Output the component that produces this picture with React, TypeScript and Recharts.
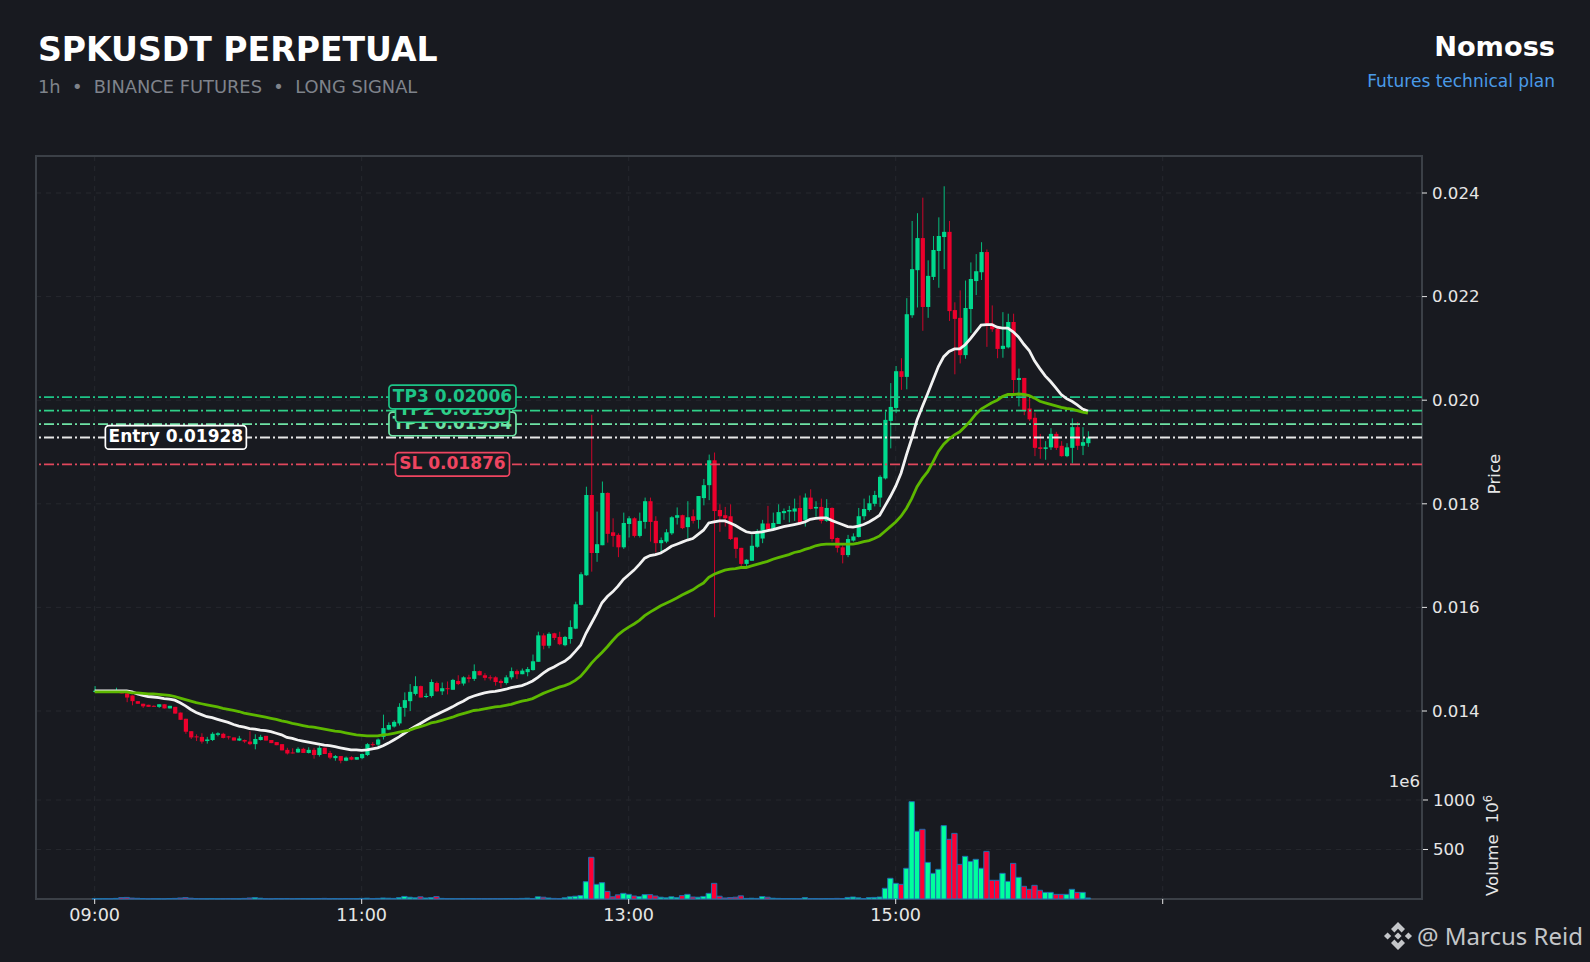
import {
  Bar,
  CartesianGrid,
  Cell,
  ComposedChart,
  Line,
  ReferenceDot,
  ReferenceLine,
  XAxis,
  YAxis,
} from "recharts";

// prices are kept in 1e-5 USDT, volumes in 1e6 units
const opens = [
  1438, 1439, 1439, 1439, 1439, 1438, 1434, 1430, 1419, 1414,
  1412, 1410, 1408, 1413, 1405, 1408, 1397, 1385, 1361, 1351,
  1350, 1342, 1344, 1354, 1356, 1351, 1349, 1343, 1344, 1341,
  1336, 1344, 1352, 1344, 1340, 1336, 1325, 1320, 1320, 1327,
  1319, 1325, 1315, 1329, 1319, 1309, 1313, 1304, 1311, 1306,
  1309, 1315, 1336, 1335, 1350, 1364, 1370, 1376, 1406, 1419,
  1433, 1448, 1427, 1429, 1454, 1438, 1444, 1441, 1458, 1453,
  1465, 1462, 1477, 1469, 1465, 1465, 1458, 1454, 1465, 1477,
  1471, 1475, 1479, 1495, 1546, 1526, 1550, 1543, 1527, 1539,
  1559, 1605, 1662, 1817, 1705, 1720, 1821, 1745, 1740, 1716,
  1761, 1772, 1738, 1765, 1805, 1767, 1724, 1727, 1743, 1773,
  1778, 1755, 1776, 1769, 1811, 1836, 1884, 1788, 1778, 1776,
  1735, 1715, 1684, 1690, 1717, 1733, 1762, 1751, 1761, 1782,
  1785, 1785, 1792, 1769, 1812, 1791, 1794, 1767, 1792, 1734,
  1716, 1701, 1729, 1736, 1776, 1788, 1800, 1812, 1849, 1960,
  1985, 2056, 2045, 2164, 2251, 2313, 2180, 2238, 2288, 2315,
  2325, 2174, 2159, 2087, 2176, 2230, 2247, 2286, 2148, 2138,
  2099, 2102, 2151, 2039, 2043, 1984, 1966, 1909, 1906, 1909,
  1935, 1912, 1892, 1908, 1948, 1912, 1917,
];
const closes = [
  1439, 1439, 1439, 1438, 1440, 1434, 1426, 1419, 1414, 1409,
  1408, 1409, 1413, 1405, 1410, 1395, 1383, 1360, 1349, 1350,
  1341, 1345, 1356, 1357, 1348, 1349, 1343, 1347, 1341, 1336,
  1346, 1350, 1343, 1338, 1334, 1324, 1318, 1319, 1327, 1319,
  1325, 1315, 1329, 1317, 1310, 1313, 1304, 1310, 1306, 1311,
  1317, 1336, 1335, 1345, 1367, 1373, 1379, 1408, 1421, 1437,
  1448, 1426, 1429, 1456, 1438, 1444, 1442, 1460, 1452, 1465,
  1462, 1477, 1469, 1464, 1464, 1456, 1454, 1465, 1477, 1471,
  1478, 1481, 1496, 1546, 1526, 1549, 1541, 1529, 1543, 1562,
  1606, 1664, 1817, 1705, 1722, 1821, 1742, 1738, 1716, 1763,
  1772, 1738, 1767, 1805, 1765, 1724, 1730, 1745, 1774, 1778,
  1753, 1774, 1767, 1815, 1836, 1884, 1786, 1776, 1772, 1732,
  1713, 1684, 1692, 1719, 1744, 1762, 1751, 1763, 1784, 1786,
  1788, 1791, 1762, 1812, 1790, 1794, 1767, 1792, 1732, 1715,
  1701, 1732, 1737, 1776, 1790, 1801, 1817, 1852, 1962, 1987,
  2056, 2045, 2166, 2253, 2313, 2180, 2240, 2290, 2317, 2325,
  2172, 2157, 2087, 2178, 2234, 2249, 2286, 2148, 2137, 2099,
  2105, 2151, 2039, 2043, 1979, 1963, 1908, 1906, 1909, 1935,
  1908, 1892, 1909, 1948, 1912, 1919, 1928,
];
const highs = [
  1448, 1440, 1440, 1440, 1445, 1439, 1434, 1430, 1419, 1414,
  1412, 1411, 1413, 1413, 1410, 1408, 1397, 1385, 1361, 1355,
  1357, 1350, 1359, 1359, 1358, 1352, 1349, 1352, 1345, 1361,
  1355, 1354, 1352, 1344, 1340, 1336, 1329, 1328, 1330, 1329,
  1330, 1329, 1333, 1329, 1323, 1315, 1313, 1312, 1313, 1311,
  1318, 1338, 1340, 1347, 1393, 1378, 1382, 1415, 1436, 1452,
  1467, 1449, 1434, 1461, 1457, 1455, 1457, 1462, 1469, 1467,
  1470, 1490, 1478, 1473, 1469, 1467, 1461, 1469, 1484, 1480,
  1482, 1485, 1509, 1553, 1550, 1552, 1551, 1553, 1545, 1575,
  1611, 1668, 1833, 1972, 1785, 1843, 1822, 1772, 1743, 1783,
  1776, 1774, 1783, 1812, 1812, 1776, 1735, 1751, 1776, 1793,
  1779, 1805, 1789, 1815, 1848, 1895, 1899, 1799, 1794, 1799,
  1735, 1715, 1693, 1740, 1751, 1769, 1796, 1783, 1799, 1791,
  1796, 1810, 1816, 1820, 1828, 1805, 1810, 1809, 1793, 1735,
  1720, 1740, 1743, 1792, 1810, 1816, 1825, 1855, 1978, 2033,
  2066, 2081, 2197, 2346, 2361, 2391, 2270, 2317, 2353, 2413,
  2346, 2189, 2212, 2231, 2266, 2282, 2305, 2291, 2183, 2140,
  2170, 2167, 2167, 2061, 2043, 2005, 1976, 1935, 1921, 1946,
  1939, 1921, 1917, 1965, 1958, 1948, 1940,
];
const lows = [
  1437, 1438, 1438, 1438, 1438, 1434, 1417, 1411, 1414, 1406,
  1408, 1408, 1406, 1405, 1405, 1395, 1383, 1356, 1346, 1342,
  1337, 1337, 1342, 1351, 1347, 1345, 1343, 1342, 1338, 1334,
  1326, 1343, 1343, 1338, 1334, 1324, 1316, 1318, 1319, 1319,
  1318, 1308, 1312, 1317, 1307, 1304, 1299, 1303, 1305, 1306,
  1307, 1313, 1331, 1331, 1345, 1363, 1368, 1372, 1389, 1400,
  1430, 1426, 1425, 1426, 1437, 1431, 1432, 1441, 1450, 1449,
  1455, 1458, 1469, 1459, 1459, 1449, 1445, 1451, 1461, 1462,
  1471, 1467, 1478, 1495, 1519, 1521, 1537, 1527, 1525, 1530,
  1558, 1604, 1661, 1669, 1688, 1720, 1725, 1717, 1697, 1713,
  1735, 1735, 1735, 1752, 1727, 1706, 1707, 1724, 1740, 1760,
  1751, 1733, 1762, 1752, 1797, 1807, 1581, 1746, 1756, 1730,
  1695, 1676, 1679, 1690, 1715, 1724, 1750, 1750, 1761, 1769,
  1764, 1767, 1759, 1756, 1789, 1775, 1762, 1765, 1727, 1706,
  1685, 1697, 1727, 1735, 1769, 1785, 1795, 1794, 1847, 1907,
  1975, 2020, 2021, 2159, 2179, 2134, 2159, 2232, 2217, 2253,
  2153, 2050, 2071, 2080, 2130, 2203, 2232, 2103, 2132, 2081,
  2082, 2100, 2013, 1988, 1971, 1960, 1892, 1887, 1885, 1904,
  1904, 1891, 1890, 1878, 1904, 1894, 1910,
];
const volumes = [
  2, 2, 3, 3, 6, 14, 16, 9, 7, 5,
  2, 3, 2, 2, 5, 6, 10, 14, 8, 4,
  3, 2, 3, 2, 3, 4, 3, 2, 6, 10,
  14, 8, 3, 2, 5, 4, 5, 3, 4, 5,
  3, 4, 5, 6, 3, 4, 3, 5, 4, 3,
  6, 8, 4, 6, 10, 8, 6, 14, 26, 18,
  12, 22, 10, 14, 24, 6, 4, 3, 4, 3,
  5, 3, 4, 3, 3, 4, 3, 4, 5, 3,
  6, 8, 4, 22, 18, 10, 6, 4, 12, 22,
  28, 35, 175, 421, 148, 165, 77, 22, 42, 57,
  47, 30, 24, 44, 44, 30, 18, 12, 22, 14,
  34, 47, 20, 18, 26, 57, 158, 28, 10, 14,
  18, 32, 6, 8, 6, 24, 18, 8, 6, 5,
  5, 4, 4, 14, 4, 4, 3, 4, 4, 6,
  5, 16, 20, 12, 4, 14, 16, 20, 108, 209,
  158, 148, 310, 983, 684, 704, 370, 259, 300, 741,
  603, 663, 350, 431, 380, 401, 310, 481, 189, 189,
  259, 178, 360, 219, 128, 98, 138, 88, 67, 67,
  47, 47, 47, 98, 67, 67, 10,
];
const fastMa = [
  1439, 1439, 1439, 1439, 1439, 1439, 1439, 1437, 1433, 1430,
  1428, 1427, 1426, 1424, 1423, 1421, 1416, 1410, 1403, 1397,
  1393, 1389, 1387, 1384, 1381, 1378, 1374, 1371, 1369, 1366,
  1365, 1363, 1362, 1360, 1357, 1354, 1349, 1347, 1344, 1342,
  1340, 1338, 1336, 1334, 1333, 1331, 1329, 1327, 1325, 1325,
  1324, 1325, 1327, 1329, 1333, 1338, 1344, 1350, 1357, 1364,
  1370, 1376, 1382, 1388, 1393, 1398, 1403, 1408, 1414, 1419,
  1425, 1429, 1432, 1435, 1437, 1438, 1440, 1442, 1445, 1447,
  1449, 1453, 1458, 1465, 1473, 1480, 1485, 1491, 1496, 1504,
  1515, 1527, 1550, 1569, 1588, 1609, 1621, 1630, 1641, 1654,
  1663, 1672, 1683, 1695, 1700, 1702, 1705, 1711, 1718, 1722,
  1726, 1730, 1733, 1741, 1749, 1763, 1765, 1767, 1767, 1763,
  1758, 1752, 1746, 1744, 1745, 1746, 1748, 1750, 1753, 1756,
  1758, 1760, 1762, 1765, 1770, 1772, 1773, 1773, 1768, 1764,
  1760, 1756, 1755, 1757, 1760, 1765, 1771, 1778, 1796, 1814,
  1834, 1859, 1894, 1926, 1962, 1988, 2013, 2039, 2065, 2084,
  2094, 2099, 2099, 2107, 2119, 2132, 2145, 2146, 2146, 2141,
  2139, 2139, 2132, 2122, 2108, 2096, 2076, 2061, 2047, 2036,
  2024, 2011, 2003, 1998, 1991, 1983, 1979,
];
const slowMa = [
  1437, 1437, 1437, 1437, 1437, 1437, 1437, 1435, 1435, 1434,
  1433, 1433, 1432, 1431, 1430, 1428, 1425, 1422, 1419, 1416,
  1414, 1412, 1410, 1408, 1405, 1403, 1401, 1399, 1396, 1394,
  1392, 1390, 1388, 1386, 1384, 1381, 1379, 1376, 1374, 1372,
  1370, 1369, 1367, 1365, 1363, 1361, 1360, 1358, 1356, 1354,
  1353, 1352, 1352, 1352, 1354, 1355, 1357, 1359, 1361, 1363,
  1367, 1370, 1373, 1377, 1379, 1382, 1385, 1388, 1392, 1395,
  1398, 1401, 1402, 1404, 1406, 1408, 1409, 1411, 1413, 1416,
  1419, 1421, 1424, 1429, 1434, 1438, 1442, 1446, 1449, 1453,
  1459, 1467, 1479, 1492, 1503, 1513, 1524, 1536, 1547, 1555,
  1562, 1568, 1575, 1584, 1591, 1597, 1603, 1608, 1613, 1618,
  1624, 1629, 1634, 1641, 1647, 1658, 1664, 1668, 1672, 1674,
  1675, 1677, 1677, 1680, 1683, 1686, 1689, 1693, 1696, 1699,
  1702, 1706, 1708, 1712, 1715, 1719, 1721, 1722, 1722, 1722,
  1722, 1722, 1722, 1724, 1727, 1729, 1733, 1738, 1747, 1756,
  1765, 1776, 1791, 1810, 1833, 1849, 1862, 1881, 1901, 1915,
  1925, 1933, 1939, 1949, 1960, 1973, 1983, 1989, 1995, 2000,
  2007, 2011, 2011, 2012, 2011, 2009, 2004, 1998, 1995, 1992,
  1989, 1986, 1984, 1983, 1980, 1977, 1975,
];

const timeTicks = [0, 50, 100, 150, 200];
const timeLabels = ["09:00", "11:00", "13:00", "15:00", ""];
const priceTicks = [0.014, 0.016, 0.018, 0.02, 0.022, 0.024];
const volumeTicks = [500, 1000];

const levelNames = ["TP1", "TP2", "TP3", "Entry", "SL"];
const levelPrices = [0.01954, 0.0198, 0.02006, 0.01928, 0.01876];
const levelText = ["0.01954", "0.0198", "0.02006", "0.01928", "0.01876"];
const levelColors = ["#6fe3a5", "#2fd088", "#1dc487", "#ffffff", "#ef4560"];
const lineColors = ["#6fe3a5", "#2fd088", "#1dc487", "#e8e8e8", "#e0475c"];
const levelSlots = [67, 67, 67, 15.2, 67];
const levelBoxWidth = [127, 114, 127, 141, 114];

const BG = "#181a20";
const UP = "#00d98d";
const DOWN = "#ec002c";
const VOL_UP = "#00ff9d";
const VOL_DOWN = "#ff0033";

const data = opens.map((open, i) => ({
  slot: i,
  open: open / 1e5,
  close: closes[i] / 1e5,
  range: [lows[i] / 1e5, highs[i] / 1e5],
  volume: volumes[i],
  fast: fastMa[i] / 1e5,
  slow: slowMa[i] / 1e5,
}));

function Candle({ x, y, width, height, payload }: any) {
  const { open, close, range } = payload;
  const [low, high] = range;
  const perUnit = height / (high - low);
  const top = y + (high - Math.max(open, close)) * perUnit;
  const bodyH = Math.max(Math.abs(open - close) * perUnit, 1);
  const color = close >= open ? UP : DOWN;
  const cx = x + width / 2;
  return (
    <g>
      <line x1={cx} x2={cx} y1={y} y2={y + height} stroke={color} strokeWidth={1} strokeOpacity={0.85} />
      <rect x={x} y={top} width={width} height={bodyH} fill={color} />
    </g>
  );
}

function LevelTag({ cx, cy, text, color, boxWidth }: any) {
  return (
    <g>
      <rect
        x={cx - boxWidth / 2}
        y={cy - 11.9}
        width={boxWidth}
        height={23.6}
        rx={3.5}
        fill={BG}
        stroke={color}
        strokeWidth={1.7}
      />
      <text
        x={cx}
        y={cy + 4.6}
        textAnchor="middle"
        fill={color}
        fontSize={17}
        fontWeight="bold"
        fontFamily="DejaVu Sans"
      >
        {text}
      </text>
    </g>
  );
}

function BinanceMark() {
  return (
    <svg width={28} height={28} viewBox="0 0 28 28" style={{ position: "absolute", left: 1384, top: 922 }}>
      <g fill="#c4c6c9">
        <path d="M14 0 L21 7 L17.6 10.4 L14 6.8 L10.4 10.4 L7 7 Z" />
        <path d="M14 28 L21 21 L17.6 17.6 L14 21.2 L10.4 17.6 L7 21 Z" />
        <path d="M0 14 L3.6 10.4 L7.2 14 L3.6 17.6 Z" />
        <path d="M28 14 L24.4 10.4 L20.8 14 L24.4 17.6 Z" />
        <path d="M14 10.4 L17.6 14 L14 17.6 L10.4 14 Z" />
      </g>
    </svg>
  );
}

const font = "DejaVu Sans";
const abs = (o: any) => ({ position: "absolute", fontFamily: font, whiteSpace: "pre", lineHeight: 1, ...o } as any);

export default function App() {
  return (
    <div style={{ position: "fixed", left: 0, top: 0, width: 1590, height: 962, background: BG, overflow: "hidden" }}>
      <div style={abs({ left: 38, top: 33, fontSize: 33.1, fontWeight: "bold", color: "#ffffff" })}>SPKUSDT PERPETUAL</div>
      <div style={abs({ left: 38, top: 78, fontSize: 17.85, color: "#7f838b" })}>1h  •  BINANCE FUTURES  •  LONG SIGNAL</div>
      <div style={abs({ right: 35, top: 33, fontSize: 27.2, fontWeight: "bold", color: "#ffffff" })}>Nomoss</div>
      <div style={abs({ right: 35, top: 73, fontSize: 17, color: "#4a9be8" })}>Futures technical plan</div>

      <ComposedChart
        width={1590}
        height={962}
        data={data}
        margin={{ top: 156, right: 0, bottom: 0, left: 36 }}
        style={{ position: "absolute", left: 0, top: 0 }}
      >
        <XAxis
          xAxisId="price"
          dataKey="slot"
          type="number"
          domain={[-10.99, 248.56]}
          ticks={timeTicks}
          tickFormatter={(v: number) => timeLabels[timeTicks.indexOf(v)]}
          tick={{ fill: "#e6e6e6", fontSize: 17.6, fontFamily: font }}
          tickLine={{ stroke: "#e6e6e6" }}
          axisLine={false}
          tickSize={5}
          tickMargin={5}
          height={63}
        />
        <XAxis xAxisId="volume" dataKey="slot" type="number" domain={[-10.99, 248.56]} hide />
        <YAxis
          yAxisId="price"
          orientation="right"
          type="number"
          domain={[0.0103707, 0.0247143]}
          ticks={priceTicks}
          tickFormatter={(v: number) => v.toFixed(3)}
          tick={{ fill: "#e6e6e6", fontSize: 16.6, fontFamily: font }}
          tickLine={{ stroke: "#e6e6e6" }}
          axisLine={false}
          tickSize={5}
          tickMargin={5}
          width={1}
        />
        <YAxis
          yAxisId="volume"
          orientation="right"
          type="number"
          domain={[0, 7505]}
          ticks={volumeTicks}
          tick={{ fill: "#e6e6e6", fontSize: 16.6, fontFamily: font }}
          tickLine={{ stroke: "#e6e6e6" }}
          axisLine={false}
          tickSize={5}
          tickMargin={5}
          width={167}
        />

        <CartesianGrid xAxisId="price" yAxisId="price" stroke="#26282e" strokeDasharray="5 5" />
        <CartesianGrid xAxisId="price" yAxisId="volume" vertical={false} stroke="#26282e" strokeDasharray="5 5" />

        {levelPrices.map((price, i) => (
          <ReferenceLine
            key={levelNames[i]}
            xAxisId="price"
            yAxisId="price"
            y={price}
            stroke={lineColors[i]}
            strokeWidth={1.8}
            strokeDasharray="10 3 2 3"
          />
        ))}

        <Bar xAxisId="volume" yAxisId="volume" dataKey="volume" barSize={5.34} stroke="#1f6fb0" strokeWidth={1} isAnimationActive={false}>
          {data.map((d) => (
            <Cell key={d.slot} fill={d.close >= d.open ? VOL_UP : VOL_DOWN} />
          ))}
        </Bar>
        <Bar xAxisId="price" yAxisId="price" dataKey="range" barSize={4.2} shape={<Candle />} isAnimationActive={false} />
        <Line xAxisId="price" yAxisId="price" dataKey="fast" stroke="#f2f2f2" strokeWidth={2.8} dot={false} type="linear" isAnimationActive={false} />
        <Line xAxisId="price" yAxisId="price" dataKey="slow" stroke="#5db800" strokeWidth={2.8} dot={false} type="linear" isAnimationActive={false} />

        {levelPrices.map((price, i) => (
          <ReferenceDot
            key={levelNames[i]}
            xAxisId="price"
            yAxisId="price"
            x={levelSlots[i]}
            y={price}
            r={0}
            shape={(p: any) => (
              <LevelTag cx={p.cx} cy={p.cy} text={`${levelNames[i]} ${levelText[i]}`} color={levelColors[i]} boxWidth={levelBoxWidth[i]} />
            )}
          />
        ))}

        <rect x={36} y={156} width={1386} height={743} fill="none" stroke="#3b4047" strokeWidth={2} />
        <text x={1420} y={787} textAnchor="end" fill="#e6e6e6" fontSize={16.6} fontFamily={font}>1e6</text>
        <text transform="translate(1500 474) rotate(-90)" textAnchor="middle" fill="#e6e6e6" fontSize={16.6} fontFamily={font}>Price</text>
        <text transform="translate(1498 896) rotate(-90)" fill="#e6e6e6" fontSize={16.6} fontFamily={font}>
          Volume<tspan dx={11}>10</tspan><tspan dy={-6} fontSize={11.5}>6</tspan>
        </text>
      </ComposedChart>

      <BinanceMark />
      <div style={abs({ left: 1417, top: 924, fontSize: 24, fontFamily: "Noto Sans", color: "#c4c6c9" })}>@ Marcus Reid</div>
    </div>
  );
}
